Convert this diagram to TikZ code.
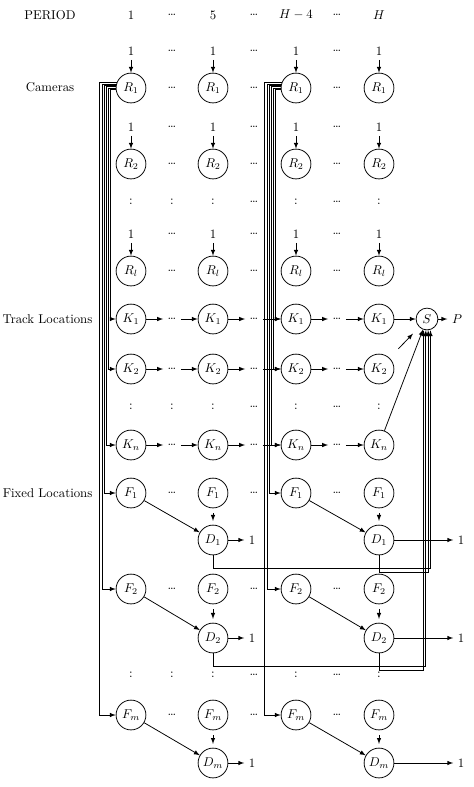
\documentclass[tikz,border=0pt]{standalone}
\usepackage{amsmath, amssymb}
\usepackage{tikz}
\usetikzlibrary{positioning, arrows, calc}

\begin{document}
\begin{tikzpicture}[x=0.0275cm, y=-0.0275cm, >=latex, semithick,
    loc/.style={circle, draw, minimum size=0.82cm, inner sep=0pt},
    sink/.style={circle, draw, minimum size=0.6cm, inner sep=0pt}]
    \useasboundingbox (0,0) rectangle (474,787);

    % periods
    \node (period) at (50,15) {PERIOD};
    \foreach \n/\x/\t in {p1/131/$1$, p12/172/\dots, p5/213/$5$, p54/254/\dots,
                          p4/296/$H-4$, p4H/337/\dots, pH/379/$H$}
        \node (\n) at (\x,15) {\t};

    % cameras
    \node (cameras) at (50,87) {Cameras};
    \foreach \r/\y in {1/88,2/164,l/271} {
        \foreach \c/\x in {a/131,b/213,c/296,d/379} {
            \node[loc] (R\r-\c) at (\x,\y) {$R_\r$};
            \node (one\r-\c) at (\x,\y-37) {$1$};
            \draw[->] (one\r-\c) -- (R\r-\c);
        }
        \foreach \d/\x in {ab/172,bc/254,cd/337} {
            \node (Rdots\r-\d) at (\x,\y) {\dots};
            \node (onedots\r-\d) at (\x,\y-37) {\dots};
        }
    }

    % gaps between rows
    \foreach \g/\y in {g1/202,g2/407,g3/675} {
        \foreach \n/\x/\t in {a/131/:, ab/172/:, b/213/:, bc/254/\dots,
                              c/296/:, cd/337/\dots, d/379/:}
            \node (\g-\n) at (\x,\y) {\t};
    }

    % track locations
    \node[anchor=east] (track) at (97,319) {Track Locations};
    \foreach \r/\y in {1/319,2/369,n/445} {
        \foreach \c/\x in {a/131,b/213,c/296,d/379}
            \node[loc] (K\r-\c) at (\x,\y) {$K_\r$};
        \foreach \d/\x in {ab/172,bc/254,cd/337}
            \node (K\r-\d) at (\x,\y) {\dots};
        \foreach \u/\d/\v in {a/ab/b,b/bc/c,c/cd/d} {
            \draw[->] (K\r-\u) -- (K\r-\d);
            \draw[->] (K\r-\d) -- (K\r-\v);
        }
    }
    \node[sink] (S) at (427,319) {$S$};
    \node (P) at (457,319) {$P$};
    \draw[->] (K1-d) -- (S);
    \draw[->] (S) -- (P);
    \draw[->, shorten <=10pt, shorten >=7pt] (K2-d) -- (S);
    \draw[->] (Kn-d) -- (S);

    % fixed locations
    \node[anchor=east] (fixed) at (97,493) {Fixed Locations};
    \foreach \r/\y/\yd in {1/493/540,2/589/638,m/715/763} {
        \foreach \c/\x in {a/131,b/213,c/296,d/379}
            \node[loc] (F\r-\c) at (\x,\y) {$F_\r$};
        \foreach \d/\x in {ab/172,bc/254,cd/337}
            \node (Fdots\r-\d) at (\x,\y) {\dots};
        \node[loc] (D\r-b) at (213,\yd) {$D_\r$};
        \node[loc] (D\r-d) at (379,\yd) {$D_\r$};
        \node (out\r-b) at (252,\yd) {$1$};
        \node (out\r-d) at (461,\yd) {$1$};
        \draw[->] (F\r-a) -- (D\r-b);
        \draw[->, shorten <=4pt, shorten >=3pt] (F\r-b) -- (D\r-b);
        \draw[->] (F\r-c) -- (D\r-d);
        \draw[->, shorten <=4pt, shorten >=3pt] (F\r-d) -- (D\r-d);
        \draw[->] (D\r-b) -- (out\r-b);
        \draw[->] (D\r-d) -- (out\r-d);
    }

    % camera coverage
    \foreach \c in {a,c} {
        \foreach \t [count=\k from 0, evaluate=\k as \ang using 160+5*\k] in {Fm,F2,F1,Kn,K2,K1}
            \draw[->] (R1-\c.\ang) -| ($(\t-\c.west)+(-16+2.2*\k,0)$) -- (\t-\c);
    }

    % detections back to S
    \foreach \src/\drop/\dx in {D1-b/13/3.5, D1-d/17/1.2, D2-b/13/-1.2, D2-d/17/-3.5}
        \draw[->] (\src.south) -- ++(0,\drop) -| ($(S.south)+(\dx,0)$);
\end{tikzpicture}
\end{document}
